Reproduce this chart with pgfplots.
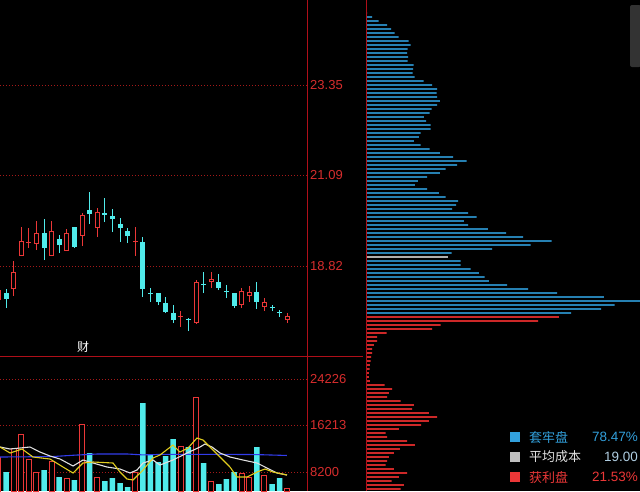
\documentclass[border=0pt]{standalone}
\usepackage{pgfplots}
\pgfplotsset{compat=1.18}
\usepackage{pgfplotstable}
\usepackage{fontspec}
\setmainfont{Liberation Sans}
\newfontfamily\cjk{Noto Sans CJK SC}

\definecolor{upred}{RGB}{235,55,55}
\definecolor{downcyan}{RGB}{80,235,235}
\definecolor{framered}{RGB}{175,15,25}
\definecolor{gridred}{RGB}{165,25,25}
\definecolor{labred}{RGB}{215,45,45}
\definecolor{chipblue}{RGB}{38,128,178}
\definecolor{chipred}{RGB}{205,40,40}
\definecolor{chipgray}{RGB}{175,175,175}
\definecolor{mawhite}{RGB}{225,225,225}
\definecolor{mayellow}{RGB}{225,205,30}
\definecolor{mablue}{RGB}{50,60,235}
\definecolor{legblue}{RGB}{50,160,220}
\definecolor{legval}{RGB}{175,205,225}

% candles: index, open, high, low, close
\pgfplotstableread{
i O H L C
-1 17.975 18.30 17.85 18.225
1 18.25 18.95 18.075 18.675
2 19.075 19.80 19.075 19.45
3 19.40 19.775 19.275 19.425
4 19.375 19.95 19.225 19.65
6 19.075 19.95 19.075 19.70
8 19.20 19.75 19.20 19.65
10 19.575 20.15 19.325 20.10
12 19.775 20.275 19.55 20.175
17 19.425 19.80 19.075 19.45
23 17.55 17.70 17.30 17.575
25 17.40 18.475 17.375 18.425
27 18.425 18.675 18.275 18.50
31 17.85 18.275 17.775 18.20
32 18.075 18.325 17.925 18.175
34 17.80 18.025 17.70 17.925
37 17.475 17.65 17.40 17.575
}\redk

\pgfplotstableread{
i O H L C
0 18.15 18.25 17.775 18.0
5 19.65 20.0 18.975 19.275
7 19.50 19.60 19.15 19.35
9 19.80 19.80 19.275 19.30
11 20.225 20.675 19.875 20.125
13 20.15 20.525 19.925 20.10
14 20.075 20.25 19.675 20.0
15 19.875 20.025 19.425 19.775
16 19.70 19.775 19.40 19.575
18 19.425 19.55 18.05 18.25
19 18.15 18.275 17.925 18.125
20 18.15 18.15 17.85 17.925
21 17.90 18.05 17.65 17.675
22 17.65 17.85 17.40 17.475
24 17.50 17.525 17.20 17.475
26 18.375 18.675 18.15 18.35
28 18.425 18.625 18.225 18.275
29 18.20 18.35 18.025 18.175
30 18.15 18.15 17.775 17.825
33 18.175 18.425 17.75 17.925
35 17.80 17.85 17.70 17.775
36 17.675 17.725 17.55 17.65
}\cyk

% volumes
\pgfplotstableread{
i v
-1 10785
1 12335
2 14747
3 10440
4 8200
6 10095
8 7166
10 16470
12 7338
17 8200
23 12680
25 21123
27 6649
31 8028
32 7338
34 7683
37 5443
}\redv

\pgfplotstableread{
i v
0 8200
5 8545
7 7338
9 6822
11 11474
13 6649
14 7166
15 6305
16 5616
18 20089
19 11301
20 9923
21 10957
22 13886
24 12508
26 9751
28 6132
29 6994
30 8200
33 12508
35 6132
36 7166
}\cyv

% chip distribution: price, length
\pgfplotstableread{
p len
25.15 0.7
25.05 5.7
24.95 12
24.85 20.7
24.75 24.7
24.65 28
24.55 32
24.45 42
24.35 44
24.25 41
24.15 40.7
24.05 41.7
23.95 41
23.85 47
23.75 46.7
23.65 46
23.55 48
23.45 57
23.35 65.7
23.25 70.7
23.15 70
23.05 70.7
22.95 73.3
22.85 70.7
22.75 65
22.65 63
22.55 57.3
22.45 59.7
22.35 64
22.25 64
22.15 54
22.05 52.3
21.95 47.3
21.85 54
21.75 63
21.65 73.3
21.55 86.7
21.45 100
21.35 90.7
21.25 79
21.15 73.3
21.05 60.7
20.95 51.3
20.85 48.3
20.75 60.7
20.65 72.3
20.55 79
20.45 91.7
20.35 89.7
20.25 85.7
20.15 101.7
20.05 110
19.95 97.3
19.85 101.7
19.75 121.3
19.65 139.7
19.55 156.7
19.45 185
19.35 164
19.25 125.7
19.15 85
18.95 94
18.85 94
18.75 104
18.65 112.3
18.55 118
18.45 122.3
18.35 140.7
18.25 161.7
18.15 190.7
18.05 237.3
17.95 273.3
17.85 248
17.75 234.7
17.65 204.7
}\chipb

\pgfplotstableread{
p len
19.05 81.3
}\chipg

\pgfplotstableread{
p len
17.55 192.3
17.45 171.7
17.35 74
17.25 65.7
17.15 20
17.05 10.7
16.95 10.7
16.85 7.3
16.75 5.7
16.65 5.7
16.55 4.7
16.45 4
16.35 3.3
16.25 3
16.15 2.3
16.05 2.3
15.95 3.3
15.85 18
15.75 25.7
15.65 22.3
15.55 20.7
15.45 34
15.35 47.3
15.25 45.7
15.15 62.3
15.05 70.7
14.95 62.3
14.85 54.7
14.75 32.3
14.65 19
14.55 20.7
14.45 40.7
14.35 48.3
14.25 33.3
14.15 27.3
14.05 22.3
13.95 20.7
13.85 19
13.75 27.3
13.65 40.7
13.55 32.3
13.45 25
13.35 37.3
13.25 34
}\chipr

\begin{document}
\begin{tikzpicture}[x=1pt,y=1pt]
\fill[black] (0,-491) rectangle (640,0);

% ---------- price panel ----------
\begin{axis}[
  at={(0pt,0pt)}, anchor=north west, scale only axis,
  width=307pt, height=356pt,
  xmin=-0.7895, xmax=39.605, ymin=16.575, ymax=25.475,
  axis line style={draw=none},
  xtick=\empty,
  ytick={18.82,21.09,23.35}, yticklabels={18.82,21.09,23.35},
  yticklabel pos=right,
  major tick length=0pt,
  ymajorgrids, grid style={gridred, line width=0.9pt, dash pattern=on 1pt off 2pt},
  yticklabel style={text=labred, font=\fontsize{13}{13}\selectfont, inner sep=0pt, anchor=west, xshift=3pt},
]
\addplot[downcyan, line width=1pt, quiver={u=0, v=\thisrow{H}-\thisrow{L}}] table[x=i, y=L] {\cyk};
\addplot[downcyan, line width=5pt, quiver={u=0, v=\thisrow{O}-\thisrow{C}}] table[x=i, y=C] {\cyk};
\addplot[upred, line width=1pt, quiver={u=0, v=\thisrow{H}-\thisrow{L}}] table[x=i, y=L] {\redk};
\addplot[upred, line width=5pt, quiver={u=0, v=\thisrow{C}-\thisrow{O}}] table[x=i, y=O] {\redk};
\addplot[black, line width=3pt, quiver={u=0, v={max(\thisrow{C}-\thisrow{O}-0.05,0)}}] table[x=i, y expr=\thisrow{O}+0.025] {\redk};
\end{axis}

% ---------- volume panel ----------
\begin{axis}[
  at={(0pt,-356pt)}, anchor=north west, scale only axis,
  width=307pt, height=135pt,
  xmin=-0.7895, xmax=39.605, ymin=4926, ymax=28189,
  axis line style={draw=none},
  xtick=\empty,
  ytick={8200,16213,24226}, yticklabels={8200,16213,24226},
  scaled y ticks=false,
  yticklabel pos=right,
  major tick length=0pt,
  ymajorgrids, grid style={gridred, line width=0.9pt, dash pattern=on 1pt off 2pt},
  yticklabel style={text=labred, font=\fontsize{13}{13}\selectfont, inner sep=0pt, anchor=west, xshift=3pt},
]
\addplot[ybar, bar width=5.5pt, bar shift=0pt, fill=downcyan, draw=none] table[x=i, y=v] {\cyv};
\addplot[ybar, bar width=5pt, bar shift=0pt, fill=black, draw=upred, line width=1pt] table[x=i, y=v] {\redv};
\addplot[mablue, line width=1.1pt] coordinates {(-0.79,10785) (6,10850) (9,11100) (12,11300) (16,11300) (18,11150) (21,11250) (28,11250) (33,11200) (36.97,11050)};
\addplot[mawhite, line width=1.1pt] coordinates {(-0.79,12508) (0.53,12163) (1.84,12335) (3.16,12508) (4.47,11646) (5.79,10957) (7.11,10440) (8.82,9234) (10.13,10268) (11.45,9751) (13.29,9062) (15.0,8717) (16.32,8028) (17.24,8545) (18.03,9751) (19.34,10268) (20.26,9406) (21.97,10268) (23.82,11474) (25.53,12508) (26.18,13024) (27.11,12508) (28.16,11474) (29.47,10785) (31.18,10268) (33.03,9751) (34.34,8889) (35.66,8028) (36.97,7683)};
\addplot[mayellow, line width=1.1pt] coordinates {(-0.79,12508) (0.53,11474) (2.11,12163) (3.55,10785) (5.79,10440) (7.5,9062) (8.82,8028) (10.13,9751) (11.45,9923) (14.08,9751) (15.0,8200) (15.92,6994) (16.71,6822) (18.03,8545) (19.34,10612) (20.26,11129) (21.97,12852) (22.89,11646) (23.95,12335) (25.13,14058) (25.92,13714) (26.84,12508) (28.16,10785) (29.47,9062) (30.39,7338) (31.71,7338) (33.03,8200) (34.08,8717) (35.13,8200) (36.97,7683)};
\end{axis}

% ---------- chip distribution ----------
\begin{axis}[
  at={(366.5pt,0pt)}, anchor=north west, scale only axis,
  width=273.5pt, height=491pt,
  xmin=0, xmax=273.5, ymin=13.2, ymax=25.475,
  hide axis,
]
\addplot[xbar, bar width=1.6pt, bar shift=0pt, fill=chipblue, draw=none] table[x=len, y=p] {\chipb};
\addplot[xbar, bar width=1.6pt, bar shift=0pt, fill=chipgray, draw=none] table[x=len, y=p] {\chipg};
\addplot[xbar, bar width=1.6pt, bar shift=0pt, fill=chipred, draw=none] table[x=len, y=p] {\chipr};
\end{axis}

% frame lines
\draw[framered, line width=1pt] (307.5,0) -- (307.5,-491);
\draw[framered, line width=1pt] (0,-356.5) -- (363,-356.5);
\draw[framered, line width=1pt] (366,0) -- (366,-491);

% scroll widget
\fill[black!80!white, rounded corners=2pt] (630,-67) rectangle (641,-5);

% financial marker
\node[text=white, font=\cjk\fontsize{12}{12}\selectfont, inner sep=0pt] at (83,-347) {财};

% legend
\fill[legblue] (510,-441.5) rectangle (520,-432);
\node[anchor=west, inner sep=0pt, text=legblue, font=\cjk\fontsize{13}{13}\selectfont] at (529,-437) {套牢盘};
\node[anchor=east, inner sep=0pt, text=legblue, font=\fontsize{13.5}{13.5}\selectfont] at (638,-437) {78.47\%};
\fill[chipgray!80!white] (510,-461.5) rectangle (520,-452);
\node[anchor=west, inner sep=0pt, text=black!12!white, font=\cjk\fontsize{13}{13}\selectfont] at (529,-457) {平均成本};
\node[anchor=east, inner sep=0pt, text=legval, font=\fontsize{13.5}{13.5}\selectfont] at (638,-457) {19.00};
\fill[upred] (510,-482) rectangle (520,-472);
\node[anchor=west, inner sep=0pt, text=upred, font=\cjk\fontsize{13}{13}\selectfont] at (529,-477) {获利盘};
\node[anchor=east, inner sep=0pt, text=upred, font=\fontsize{13.5}{13.5}\selectfont] at (638,-477) {21.53\%};

\pgfresetboundingbox
\useasboundingbox (0,-491) rectangle (640,0);
\end{tikzpicture}
\end{document}
